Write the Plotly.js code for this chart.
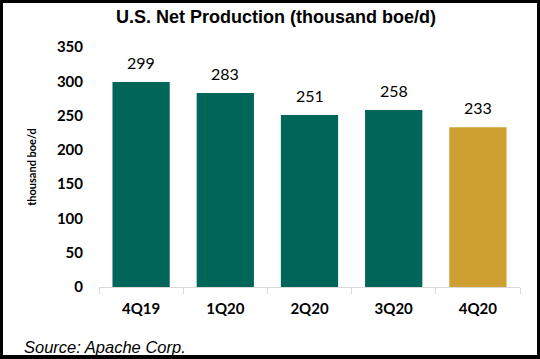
<!DOCTYPE html>
<html>
<head>
<meta charset="utf-8">
<script src="https://cdn.plot.ly/plotly-3.0.1.min.js"></script>
<style>
  html, body { margin: 0; padding: 0; background: #fff; }
  #wrap { position: relative; width: 540px; height: 359px; }
  #chart { position: absolute; left: 0; top: 0; width: 540px; height: 359px; }
  #frame { position: absolute; left: 0; top: 0; width: 540px; height: 359px; box-sizing: border-box;
           border: 3px solid #000; border-bottom-width: 4px; pointer-events: none; }
</style>
</head>
<body>
<div id="wrap"><div id="chart"></div><div id="frame"></div></div>
<script>
const categories = ["4Q19", "1Q20", "2Q20", "3Q20", "4Q20"];
const production = [299, 283, 251, 258, 233];
const yTicks = [0, 50, 100, 150, 200, 250, 300, 350];

const barColors = categories.map((c, i) => i === categories.length - 1 ? "#CDA031" : "#00665A");

const trace = {
  type: "bar",
  x: categories,
  y: production,
  marker: { color: barColors, line: { width: 0 } },
  hoverinfo: "x+y"
};

const valueLabels = categories.map((c, i) => ({
  x: c, y: production[i], xref: "x", yref: "y",
  text: String(production[i]), showarrow: false,
  yanchor: "bottom", yshift: 8,
  font: { family: "Lato, sans-serif", size: 16, color: "#000" }
}));

const layout = {
  width: 540, height: 359,
  margin: { l: 99, r: 20, t: 47, b: 72, pad: 0 },
  paper_bgcolor: "#fff", plot_bgcolor: "#fff",
  showlegend: false,
  bargap: 0.32,
  title: {
    text: "<b>U.S. Net Production (thousand boe/d)</b>",
    font: { family: "Liberation Sans, Arial, sans-serif", size: 18, color: "#000" },
    x: 0.511, xref: "container", xanchor: "center",
    y: 0.953, yref: "container", yanchor: "middle"
  },
  xaxis: {
    type: "category",
    showgrid: false,
    showline: true, linecolor: "#D9D9D9", linewidth: 1,
    ticks: "outside", tickson: "boundaries", ticklen: 6, tickcolor: "#D9D9D9",
    tickfont: { family: "Lato, sans-serif", size: 15, color: "#000", weight: "bold" },
    ticklabelstandoff: 8,
    zeroline: false
  },
  yaxis: {
    range: [0, 350],
    tickvals: yTicks,
    ticktext: yTicks.map(String),
    showgrid: false, zeroline: false, showline: false,
    ticks: "",
    tickfont: { family: "Lato, sans-serif", size: 15, color: "#000", weight: "bold" },
    ticklabelstandoff: 15,
    title: {
      text: "thousand boe/d",
      font: { family: "Lato, sans-serif", size: 11, color: "#000", weight: "bold" },
      standoff: 18
    }
  },
  annotations: valueLabels.concat([{
    xref: "paper", yref: "paper", x: -0.183, y: -0.25,
    xanchor: "left", yanchor: "middle", showarrow: false,
    text: "<i>Source: Apache Corp.</i>",
    font: { family: "Liberation Sans, Arial, sans-serif", size: 16.5, color: "#000" }
  }])
};

Plotly.newPlot("chart", [trace], layout, { displayModeBar: false, staticPlot: true });
</script>
</body>
</html>
